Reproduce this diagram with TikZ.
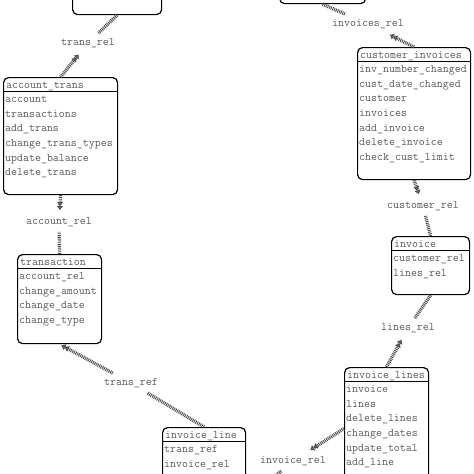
\documentclass[tikz,border=0pt]{standalone}
\usepackage{fontspec}
\usetikzlibrary{arrows.meta}

\tikzset{
  box/.style={draw, line width=1.2pt, rounded corners=5pt, anchor=north west, inner sep=0pt},
  txt/.style={font=\ttfamily\fontsize{11.6}{14}\selectfont, text=black!65, inner sep=0pt, anchor=base west},
  rel/.style={font=\ttfamily\fontsize{11.6}{14}\selectfont, text=black!65, inner sep=5pt},
  hatch/.style={line width=3.4pt, draw=black!70, dash pattern=on 0.9pt off 0.9pt},
  dbltip/.style={-{Latex[length=4pt,width=7pt,fill=black!55]Latex[length=4pt,width=7pt,fill=black!55]}, shorten >=2pt},
  sep/.style={line width=1pt}
}

\begin{document}
\begin{tikzpicture}[x=1pt,y=-1pt]

		\useasboundingbox (0,0) rectangle (474,474);
		\clip (0,0) rectangle (474,474);

		% classes
		\node[box, minimum width=89pt, minimum height=80pt] (account) at (72,-66) {};
		\node[box, minimum width=86pt, minimum height=70pt] (customer) at (279,-67) {};
		\node[box, minimum width=114pt, minimum height=117pt] (acctrans) at (3,77) {};
		\node[box, minimum width=113pt, minimum height=132pt] (custinv) at (357,47) {};
		\node[box, minimum width=78pt, minimum height=58pt] (invoice) at (391,236) {};
		\node[box, minimum width=84pt, minimum height=89pt] (transaction) at (17,254) {};
		\node[box, minimum width=84pt, minimum height=122pt] (invlines) at (344,367) {};
		\node[box, minimum width=83pt, minimum height=146pt] (invline) at (162,427) {};

		% headers
		\foreach \b/\h in {acctrans/account\_trans, custinv/customer\_invoices, invoice/invoice,
		                   transaction/transaction, invlines/invoice\_lines, invline/invoice\_line}
		{
			\draw[sep] ([yshift=-14pt]\b.north west) -- ([yshift=-14pt]\b.north east);
			\node[txt] (\b-h) at ([xshift=3pt,yshift=-11pt]\b.north west) {\h};
		}

		% members
		\foreach \t [count=\i] in {account, transactions, add\_trans, change\_trans\_types, update\_balance, delete\_trans}
			\node[txt] (acctrans-\i) at ([xshift=2pt,yshift=-11pt-14.6pt*\i]acctrans.north west) {\t};
		\foreach \t [count=\i] in {inv\_number\_changed, cust\_date\_changed, customer, invoices, add\_invoice, delete\_invoice, check\_cust\_limit}
			\node[txt] (custinv-\i) at ([xshift=2pt,yshift=-11pt-14.6pt*\i]custinv.north west) {\t};
		\foreach \t [count=\i] in {customer\_rel, lines\_rel}
			\node[txt] (invoice-\i) at ([xshift=2pt,yshift=-11pt-14.6pt*\i]invoice.north west) {\t};
		\foreach \t [count=\i] in {account\_rel, change\_amount, change\_date, change\_type}
			\node[txt] (transaction-\i) at ([xshift=2pt,yshift=-11pt-14.6pt*\i]transaction.north west) {\t};
		\foreach \t [count=\i] in {invoice, lines, delete\_lines, change\_dates, update\_total, add\_line}
			\node[txt] (invlines-\i) at ([xshift=2pt,yshift=-11pt-14.6pt*\i]invlines.north west) {\t};
		\foreach \t [count=\i] in {trans\_ref, invoice\_rel}
			\node[txt] (invline-\i) at ([xshift=2pt,yshift=-11pt-14.6pt*\i]invline.north west) {\t};

		% relations
		\node[rel] (transrel) at (88,43) {trans\_rel};
		\node[rel] (invoicesrel) at (368,24) {invoices\_rel};
		\node[rel] (accountrel) at (59,222) {account\_rel};
		\node[rel] (customerrel) at (423,206) {customer\_rel};
		\node[rel] (linesrel) at (408,328) {lines\_rel};
		\node[rel] (transref) at (131,383) {trans\_ref};
		\node[rel] (invoicerel) at (293,461) {invoice\_rel};

		\draw[hatch] (account.south) -- (transrel);
		\draw[hatch, dbltip] (acctrans.north) -- (transrel);
		\draw[hatch] (customer.south) -- (invoicesrel);
		\draw[hatch, dbltip] (custinv.north) -- (invoicesrel);
		\draw[hatch, dbltip] (acctrans.south) -- (accountrel);
		\draw[hatch] (transaction.north) -- (accountrel);
		\draw[hatch, dbltip] (custinv.south) -- (customerrel);
		\draw[hatch] (invoice.north) -- (customerrel);
		\draw[hatch] (invoice.south) -- (linesrel);
		\draw[hatch, dbltip] (invlines.north) -- (linesrel);
		\draw[hatch, dbltip] (transref) -- (transaction.south);
		\draw[hatch] (invline.north) -- (transref);
		\draw[hatch, dbltip] (invlines.west) -- (invoicerel);
		\draw[hatch] (invline.east) -- (invoicerel);

\end{tikzpicture}
\end{document}
